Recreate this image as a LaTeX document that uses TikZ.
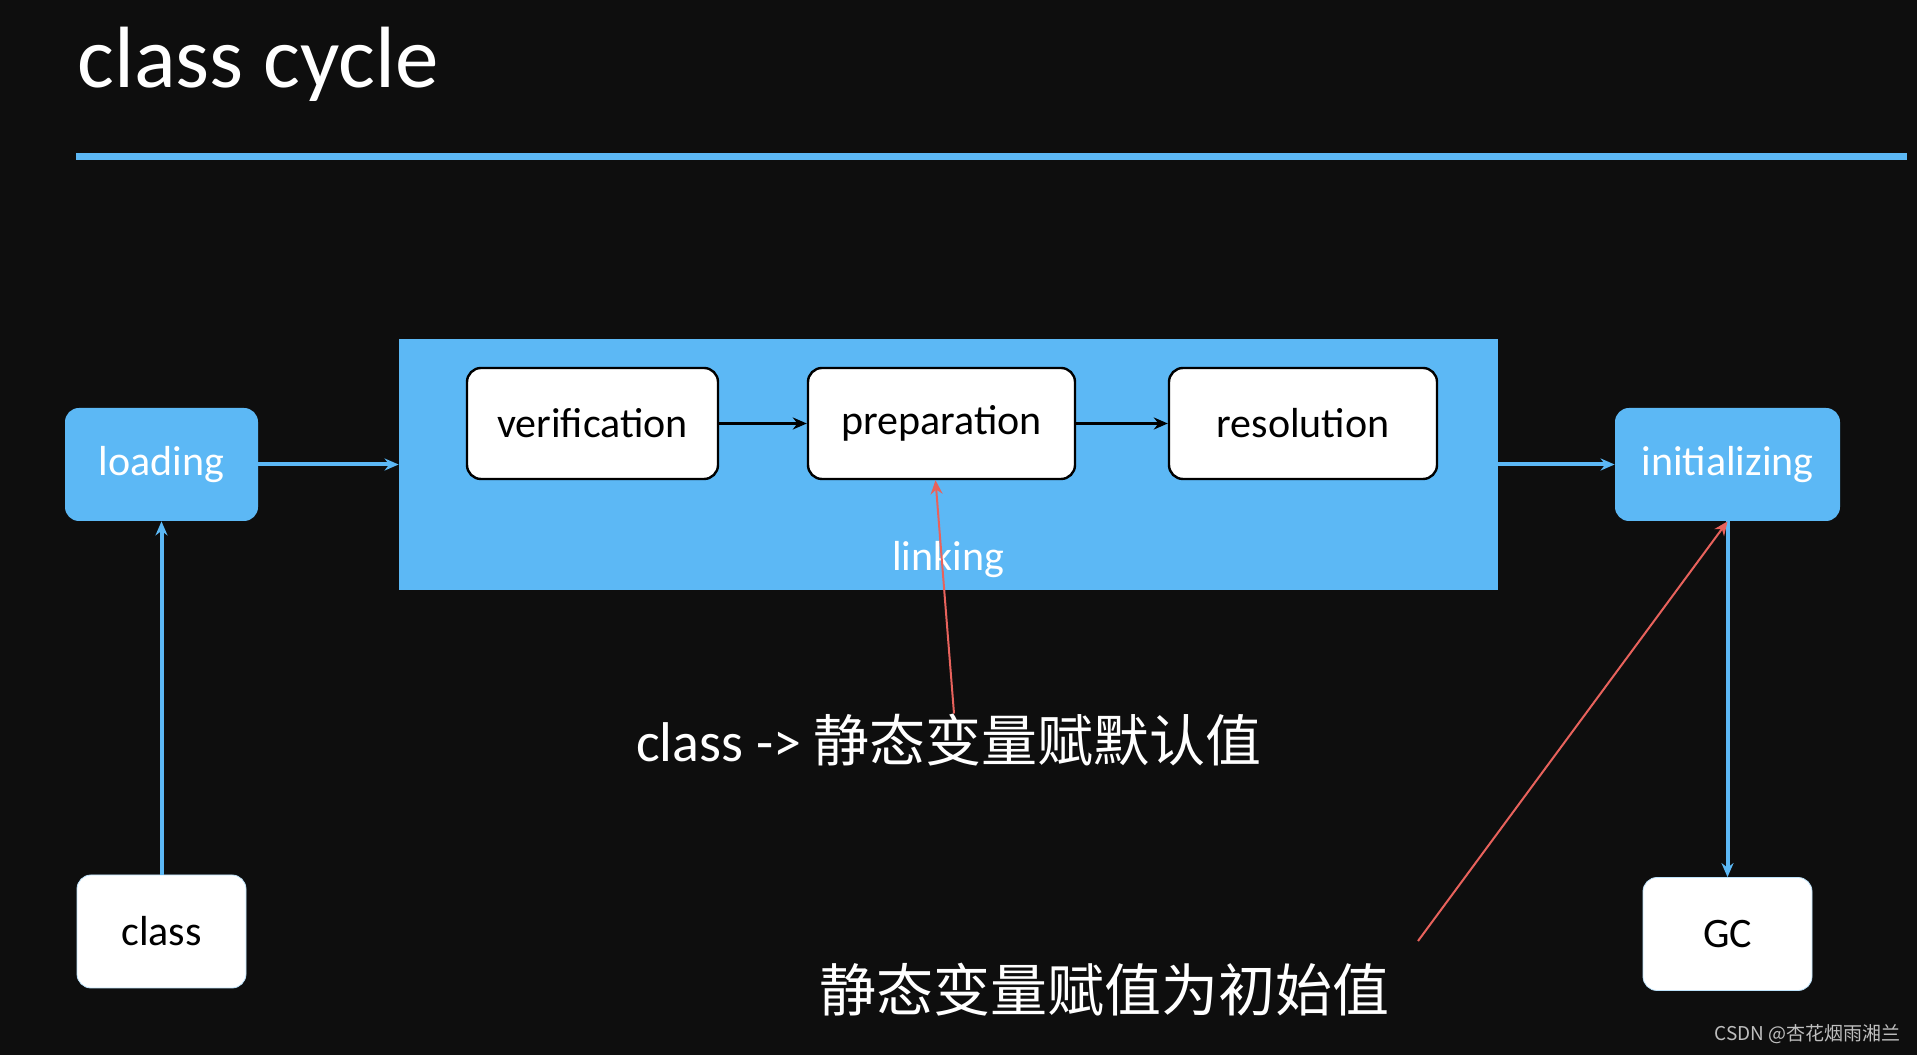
\documentclass[tikz,border=0pt]{standalone}
\usepackage{fontspec}
\setmainfont{Carlito}
\newfontfamily\cjkfont{Noto Sans CJK SC}
\usetikzlibrary{arrows.meta, positioning}
\definecolor{slideblue}{RGB}{92,184,245}
\definecolor{hintred}{RGB}{232,98,92}
\definecolor{board}{RGB}{14,14,14}

\begin{document}
\begin{tikzpicture}[x=0.5pt, y=0.5pt, >={Stealth[length=7pt, width=6pt]},
    boxfont/.style={font=\fontsize{21}{24}\selectfont},
    stagebox/.style={rectangle, rounded corners=7pt, fill=slideblue, text=white, boxfont, minimum height=56.5pt},
    phasebox/.style={rectangle, rounded corners=7pt, draw=black, line width=1.2pt, fill=white, boxfont, minimum height=55.5pt},
    endbox/.style={rectangle, rounded corners=7pt, draw=slideblue!40, fill=white, boxfont, minimum width=84.5pt, minimum height=56.5pt},
    flow/.style={->, slideblue, line width=2pt},
    step flow/.style={->, black, line width=1.6pt},
    hint/.style={->, hintred, line width=1pt}]
    \fill [board] (0,0) rectangle (1917,1055);

    \node (title) at (77,967) [anchor=base west, inner sep=0, text=white, font=\fontsize{43.5}{48}\selectfont] {class cycle};
    \draw [slideblue, line width=3.5pt] (76,898) -- (1907,898);

    \node (linking) at (948.5,590.5) [rectangle, fill=slideblue, minimum width=549.5pt, minimum height=125.5pt] {};
    \node (linkinglabel) at (948,484) [anchor=base, inner sep=0, text=white, boxfont] {linking};

    \node (verification) at (592.5,631.5) [phasebox, minimum width=125.5pt] {verification};
    \node (preparation) at (941.5,631.5) [phasebox, minimum width=133.5pt] {preparation};
    \node (resolution) at (1303,631.5) [phasebox, minimum width=134pt] {resolution};

    \node (loading) at (161.5,590.5) [stagebox, minimum width=96.5pt] {loading};
    \node (initializing) at (1727.5,590.5) [stagebox, minimum width=112.5pt] {initializing};
    \node (class) at (161.5,123.5) [endbox] {class};
    \node (gc) at (1727.5,121) [endbox] {GC};

    \node (defaulthint) at (949,315) [inner sep=0, text=white, font=\fontsize{28}{32}\selectfont] {class -> {\cjkfont 静态变量赋默认值}};
    \node (inithint) at (1104.5,65) [inner sep=0, text=white, font=\cjkfont\fontsize{28.5}{34}\selectfont] {静态变量赋值为初始值};
    \coordinate (inithintstart) at (1418,114);

    \draw [step flow] (verification) -- (preparation);
    \draw [step flow] (preparation) -- (resolution);

    \draw [flow] (class) -- (loading);
    \draw [flow] (loading) -- (linking);
    \draw [flow] (linking) -- (initializing);
    \draw [flow] (initializing) -- (gc);

    \draw [hint] ([xshift=2.5pt]defaulthint.north) -- ([xshift=-3pt]preparation.south);
    \draw [hint] (inithintstart) -- (initializing.south);

    \node (watermark) at (1901,15) [anchor=base east, inner sep=0, text=white!75!black, font=\cjkfont\fontsize{9.5}{11}\selectfont] {CSDN @杏花烟雨湘兰};
\end{tikzpicture}
\end{document}
